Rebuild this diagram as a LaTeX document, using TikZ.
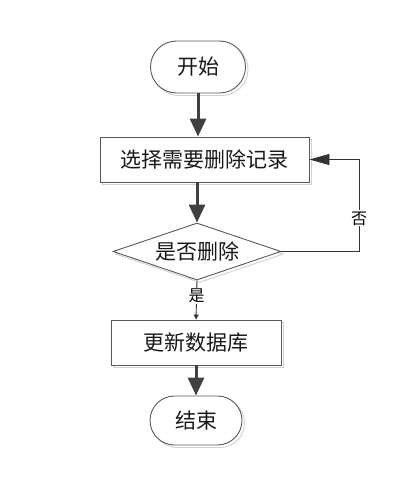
\documentclass[tikz,border=0pt]{standalone}
\usepackage{fontspec}
\newfontfamily\cjk{Noto Sans CJK SC}
\usetikzlibrary{arrows.meta,shapes.geometric,shadows}
\tikzset{
  shp/.style={draw=black!65, line width=0.9pt, fill=white, inner sep=0pt, text=black!90, font=\cjk\fontsize{21}{23}\selectfont,
    copy shadow={shadow xshift=2.5pt, shadow yshift=-2.5pt, draw=black!18, fill=white}},
  term/.style={shp, rectangle},
  proc/.style={shp, rectangle},
  dec/.style={shp, diamond, aspect=2.95},
  main/.style={draw=black!75, line width=3pt, -{Triangle[length=18pt,width=16pt]}},
  thin/.style={draw=black!80, line width=0.9pt},
  lbl/.style={fill=white, inner sep=1pt, font=\cjk\fontsize{16}{18}\selectfont}
}
\begin{document}
\begin{tikzpicture}[x=1pt,y=-1pt]
\useasboundingbox (0,0) rectangle (406,488);
\node[term, rounded corners=26pt, minimum width=95pt, minimum height=52pt] (start) at (198,67) {开始};
\node[proc, minimum width=209pt, minimum height=45pt] (sel) at (204.5,159.5) {选择需要删除记录};
\node[dec, minimum width=168pt, minimum height=57pt] (chk) at (197,251.5) {是否删除};
\node[proc, minimum width=170pt, minimum height=45pt] (upd) at (196,342.5) {更新数据库};
\node[term, rounded corners=24.5pt, minimum width=92pt, minimum height=49pt] (stop) at (196,420.5) {结束};
\coordinate (corner) at (359,251.5);
\draw[main] (start.south) -- (start.south |- sel.north);
\draw[main] (chk.north |- sel.south) -- (chk.north);
\draw[thin, -{Triangle[length=20pt,width=11pt]}] (chk.east) -- (corner) |- (sel.east)
  node[lbl, pos=0.18] {否};
\draw[thin, -{Triangle[length=5pt,width=5pt]}] (chk.south) -- (upd.north)
  node[lbl, pos=0.4] {是};
\draw[main] (upd.south) -- (stop.north);
\end{tikzpicture}
\end{document}
